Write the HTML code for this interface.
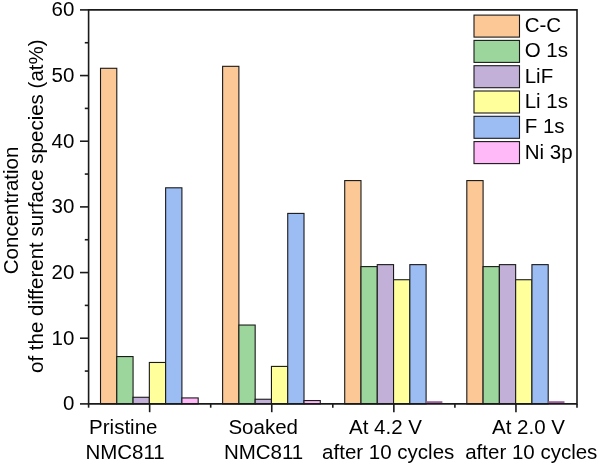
<!DOCTYPE html>
<html><head><meta charset="utf-8"><title>Concentration of the different surface species</title>
<style>
html,body{margin:0;padding:0;background:#fff;}
svg{display:block;}
text{font-family:"Liberation Sans",Arial,sans-serif;font-size:20.5px;fill:#000;font-kerning:normal;}
</style></head><body>
<svg width="599" height="464" viewBox="0 0 599 464">
<rect x="0" y="0" width="599" height="464" fill="#ffffff"/>

<rect x="100.51" y="68.29" width="16.28" height="335.61" fill="#FBC896" stroke="#1a1a1a" stroke-width="1.1"/>
<rect x="116.79" y="356.56" width="16.28" height="47.34" fill="#9CD69C" stroke="#1a1a1a" stroke-width="1.1"/>
<rect x="133.07" y="397.28" width="16.28" height="6.62" fill="#C2B0D8" stroke="#1a1a1a" stroke-width="1.1"/>
<rect x="149.35" y="362.47" width="16.28" height="41.43" fill="#FFFF9C" stroke="#1a1a1a" stroke-width="1.1"/>
<rect x="165.63" y="187.80" width="16.28" height="216.10" fill="#9CBCF4" stroke="#1a1a1a" stroke-width="1.1"/>
<rect x="181.91" y="397.93" width="16.28" height="5.97" fill="#FFB8F8" stroke="#1a1a1a" stroke-width="1.1"/>
<rect x="222.61" y="66.32" width="16.28" height="337.58" fill="#FBC896" stroke="#1a1a1a" stroke-width="1.1"/>
<rect x="238.89" y="325.04" width="16.28" height="78.86" fill="#9CD69C" stroke="#1a1a1a" stroke-width="1.1"/>
<rect x="255.17" y="399.25" width="16.28" height="4.65" fill="#C2B0D8" stroke="#1a1a1a" stroke-width="1.1"/>
<rect x="271.45" y="366.41" width="16.28" height="37.49" fill="#FFFF9C" stroke="#1a1a1a" stroke-width="1.1"/>
<rect x="287.73" y="213.41" width="16.28" height="190.49" fill="#9CBCF4" stroke="#1a1a1a" stroke-width="1.1"/>
<rect x="304.01" y="400.56" width="16.28" height="3.34" fill="#FFB8F8" stroke="#1a1a1a" stroke-width="1.1"/>
<rect x="344.71" y="180.58" width="16.28" height="223.32" fill="#FBC896" stroke="#1a1a1a" stroke-width="1.1"/>
<rect x="360.99" y="266.60" width="16.28" height="137.30" fill="#9CD69C" stroke="#1a1a1a" stroke-width="1.1"/>
<rect x="377.27" y="264.63" width="16.28" height="139.27" fill="#C2B0D8" stroke="#1a1a1a" stroke-width="1.1"/>
<rect x="393.55" y="279.73" width="16.28" height="124.17" fill="#FFFF9C" stroke="#1a1a1a" stroke-width="1.1"/>
<rect x="409.83" y="264.63" width="16.28" height="139.27" fill="#9CBCF4" stroke="#1a1a1a" stroke-width="1.1"/>
<rect x="426.11" y="401.20" width="16.28" height="2.2" fill="#9C5E9C"/>
<rect x="466.81" y="180.58" width="16.28" height="223.32" fill="#FBC896" stroke="#1a1a1a" stroke-width="1.1"/>
<rect x="483.09" y="266.60" width="16.28" height="137.30" fill="#9CD69C" stroke="#1a1a1a" stroke-width="1.1"/>
<rect x="499.37" y="264.63" width="16.28" height="139.27" fill="#C2B0D8" stroke="#1a1a1a" stroke-width="1.1"/>
<rect x="515.65" y="279.73" width="16.28" height="124.17" fill="#FFFF9C" stroke="#1a1a1a" stroke-width="1.1"/>
<rect x="531.93" y="264.63" width="16.28" height="139.27" fill="#9CBCF4" stroke="#1a1a1a" stroke-width="1.1"/>
<rect x="548.21" y="401.20" width="16.28" height="2.2" fill="#9C5E9C"/>
<g stroke="#1a1a1a" stroke-width="1.6" fill="none" stroke-linecap="butt">
<path d="M88.6 9.9 H577.0 V403.9 H88.6 Z"/>
<path d="M80.00 403.90 H88.6"/>
<path d="M80.00 338.23 H88.6"/>
<path d="M80.00 272.57 H88.6"/>
<path d="M80.00 206.90 H88.6"/>
<path d="M80.00 141.23 H88.6"/>
<path d="M80.00 75.57 H88.6"/>
<path d="M80.00 9.90 H88.6"/>
<path d="M84.80 371.07 H88.6"/>
<path d="M84.80 305.40 H88.6"/>
<path d="M84.80 239.73 H88.6"/>
<path d="M84.80 174.07 H88.6"/>
<path d="M84.80 108.40 H88.6"/>
<path d="M84.80 42.73 H88.6"/>
<path d="M149.65 403.9 V412.20"/>
<path d="M271.75 403.9 V412.20"/>
<path d="M393.85 403.9 V412.20"/>
<path d="M515.95 403.9 V412.20"/>
<path d="M88.60 403.9 V407.70"/>
<path d="M210.70 403.9 V407.70"/>
<path d="M332.80 403.9 V407.70"/>
<path d="M454.90 403.9 V407.70"/>
<path d="M577.00 403.9 V407.70"/>
</g>
<text x="74.3" y="410.30" text-anchor="end">0</text>
<text x="74.3" y="344.63" text-anchor="end">10</text>
<text x="74.3" y="278.97" text-anchor="end">20</text>
<text x="74.3" y="213.30" text-anchor="end">30</text>
<text x="74.3" y="147.63" text-anchor="end">40</text>
<text x="74.3" y="81.97" text-anchor="end">50</text>
<text x="74.3" y="16.30" text-anchor="end">60</text>
<text transform="translate(17.6,210.40) rotate(-90)" text-anchor="middle">Concentration</text>
<text transform="translate(43.0,206.20) rotate(-90)" text-anchor="middle">of the different surface species (at%)</text>
<text x="123.3" y="433.7" text-anchor="middle">Pristine</text>
<text x="125.1" y="458.8" text-anchor="middle">NMC811</text>
<text x="263.2" y="433.7" text-anchor="middle">Soaked</text>
<text x="263.6" y="458.8" text-anchor="middle">NMC811</text>
<text x="385.5" y="433.7" text-anchor="middle">At 4.2 V</text>
<text x="388.2" y="458.8" text-anchor="middle">after 10 cycles</text>
<text x="528.5" y="433.7" text-anchor="middle">At 2.0 V</text>
<text x="531.3" y="458.8" text-anchor="middle">after 10 cycles</text>
<rect x="474" y="15.10" width="45.5" height="22" fill="#FBC896" stroke="#1a1a1a" stroke-width="1.1"/>
<text x="524.7" y="32.10">C-C</text>
<rect x="474" y="40.40" width="45.5" height="22" fill="#9CD69C" stroke="#1a1a1a" stroke-width="1.1"/>
<text x="524.7" y="57.40">O 1s</text>
<rect x="474" y="65.70" width="45.5" height="22" fill="#C2B0D8" stroke="#1a1a1a" stroke-width="1.1"/>
<text x="524.7" y="82.70">LiF</text>
<rect x="474" y="91.00" width="45.5" height="22" fill="#FFFF9C" stroke="#1a1a1a" stroke-width="1.1"/>
<text x="524.7" y="108.00">Li 1s</text>
<rect x="474" y="116.30" width="45.5" height="22" fill="#9CBCF4" stroke="#1a1a1a" stroke-width="1.1"/>
<text x="524.7" y="133.30">F 1s</text>
<rect x="474" y="141.60" width="45.5" height="22" fill="#FFB8F8" stroke="#1a1a1a" stroke-width="1.1"/>
<text x="524.7" y="158.60">Ni 3p</text>
</svg></body></html>
